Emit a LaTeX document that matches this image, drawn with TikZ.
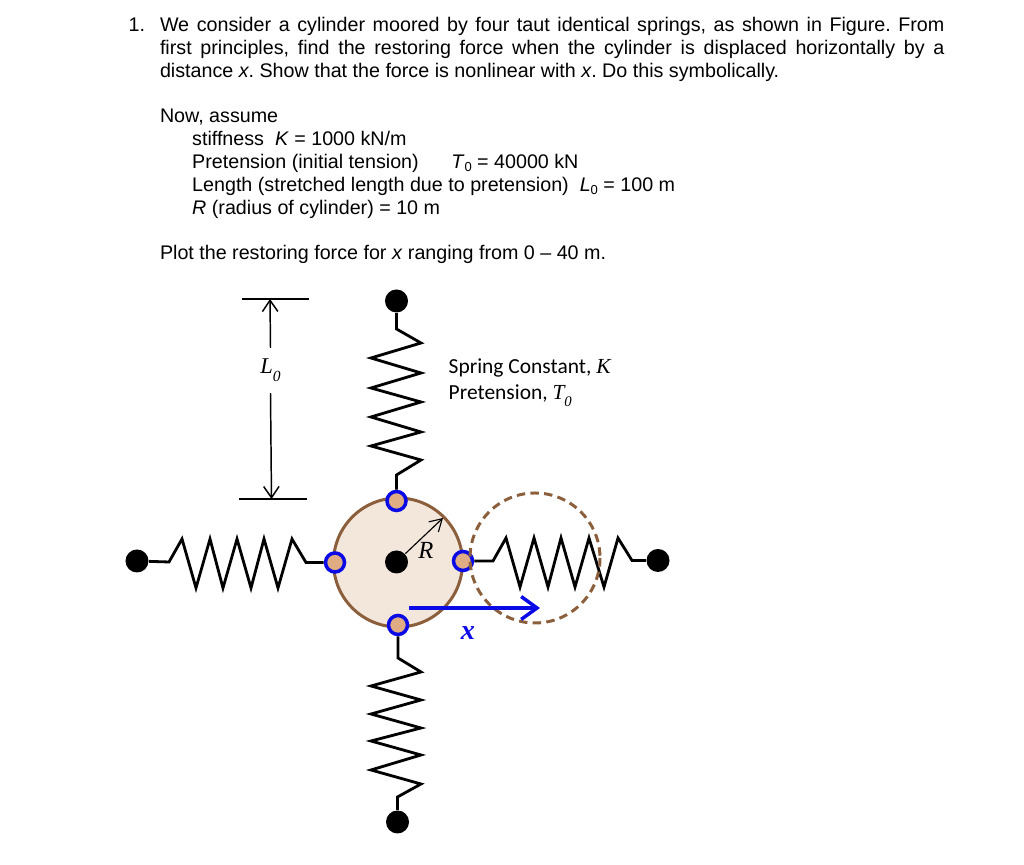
\documentclass[tikz,border=0pt]{standalone}
\usepackage{fontspec}
\setmainfont{Liberation Sans}
\newfontfamily\serifvar{Liberation Serif}
\newfontfamily\labelfont{Carlito}
\usetikzlibrary{arrows.meta}
\definecolor{cylbrown}{HTML}{8B5E3C}
\definecolor{cylfill}{HTML}{F3E6DA}
\definecolor{pinfill}{HTML}{E0AC84}
\definecolor{pinblue}{HTML}{0A0AE6}
\newcommand{\svar}[1]{{\serifvar\itshape #1}}
\newcommand{\tsub}{\raisebox{-0.3ex}{\fontsize{3.7pt}{4pt}\selectfont 0}}
\newcommand{\lsub}[1]{\raisebox{-0.65ex}{\fontsize{#1}{4pt}\selectfont\svar{0}}}
\tikzset{
  txt/.style={anchor=base west,inner sep=0pt,font=\fontsize{5.6pt}{6.46pt}\selectfont\frenchspacing},
  lbl/.style={anchor=base west,inner sep=0pt,font=\labelfont\fontsize{6.1pt}{7pt}\selectfont},
  anchordot/.style={circle,fill=black,inner sep=0pt,minimum size=0.23cm},
  pin/.style={circle,draw=pinblue,fill=pinfill,line width=1pt,inner sep=0pt,minimum size=0.19cm},
  spring/.style={line width=0.8pt,line join=miter},
  dimbar/.style={line width=0.5pt},
  dimarrow/.style={line width=0.42pt,-{Straight Barb[length=3.2pt,width=4.4pt]}}
}
\begin{document}
\begin{tikzpicture}[x=0.01cm,y=-0.01cm]
\useasboundingbox (0,0) rectangle (1024,865);
\node[txt] (num) at (128,32) {1.};
\node[txt,text width=7.84cm,align=justify] (intro) at (159.3,32) {We consider a cylinder moored by four taut identical springs, as shown in Figure. From\linebreak first principles, find the restoring force when the cylinder is displaced horizontally by a\linebreak distance \textit{x}. Show that the force is nonlinear with \textit{x}. Do this symbolically.};
\node[txt] (now) at (159.3,123) {Now, assume};
\node[txt] (stiff) at (191.5,145.3) {stiffness\ \ \textit{K} = 1000 kN/m};
\node[txt] (pre) at (191.5,168.3) {Pretension (initial tension)\hspace{0.325cm}\textit{T}\tsub{} = 40000 kN};
\node[txt] (len) at (191.5,191.3) {Length (stretched length due to pretension)\ \ \textit{L}\tsub{} = 100 m};
\node[txt] (rad) at (191.5,214.3) {\textit{R} (radius of cylinder) = 10 m};
\node[txt] (plot) at (159.3,259.5) {Plot the restoring force for \textit{x} ranging from 0 -- 40 m.};

\node[lbl] (lblk) at (448,374) {Spring Constant, \svar{K}};
\node[lbl] (lblt) at (448,399.5) {Pretension, \svar{T}\lsub{4.2pt}};

\draw[dimbar] (242,299) coordinate (upl) -- (309,299) coordinate (upr);
\draw[dimbar] (239,499) coordinate (lol) -- (307,499) coordinate (lor);
\coordinate (uptip) at (270,299);
\coordinate (lotip) at (271.5,499);
\node[inner sep=0pt,minimum height=0.44cm,font=\fontsize{6.4pt}{7pt}\selectfont] (lzero) at (270.5,370.5) {\svar{L}\lsub{4.4pt}};
\draw[dimarrow] (lzero.north) -- (uptip);
\draw[dimarrow] (lzero.south) -- (lotip);

\draw[cylbrown,fill=cylfill,line width=0.85pt] (398,562.5) circle[radius=64.5];
\node[anchordot] (centre) at (396.5,562) {};
\node[pin] (ptop) at (396.5,501) {};
\node[pin] (pbot) at (398,625) {};
\node[pin] (pleft) at (335,562.5) {};
\node[pin] (pright) at (463,561) {};
\node[anchordot] (dtop) at (396.5,301) {};
\node[anchordot] (dbot) at (397.5,822) {};
\node[anchordot] (dleft) at (137,561) {};
\node[anchordot] (dright) at (658,560.5) {};

\draw[spring] (dtop) -- (396.5,329) -- (421,343) -- (371,358) -- (421,373) -- (371,388) -- (421,402) -- (371,417) -- (421,432) -- (371,446) -- (421,460) -- (396.5,475) -- (ptop);
\draw[spring] (pbot) -- (398,658) -- (421,672) -- (371,686) -- (421,700) -- (371,714) -- (421,728) -- (371,741) -- (421,755) -- (371,770) -- (421,784) -- (397.5,797) -- (dbot);
\draw[spring] (dleft) -- (169,562) -- (182,539) -- (196,588) -- (210,539) -- (223,588) -- (237,539) -- (251,588) -- (264,539) -- (278,588) -- (292,539) -- (306,562.5) -- (pleft);
\draw[spring] (pright) -- (493,561) -- (506,538) -- (520,587) -- (534,538) -- (548,587) -- (561,538) -- (575,587) -- (589,538) -- (604,587) -- (618,538) -- (632,560.5) -- (dright);

\draw[cylbrown,line width=0.85pt,dash pattern=on 2.4pt off 1.5pt] (535,558) circle[radius=65];

\coordinate (rtip) at (443,518);
\draw[line width=0.32pt,-{Straight Barb[length=3.4pt,width=4pt]}] (centre) -- (rtip);
\node[inner sep=0pt,font=\fontsize{7pt}{8pt}\selectfont] (rlabel) at (426,550) {\svar{R}};

\coordinate (xstart) at (409,608);
\coordinate (xend) at (540,608);
\draw[pinblue,line width=1pt,-{Straight Barb[length=4.5pt,width=6.5pt]}] (xstart) -- (xend);
\node[inner sep=0pt,text=pinblue,font=\fontsize{8pt}{9pt}\selectfont] (xlabel) at (468,633) {{\serifvar\bfseries\itshape x}};
\end{tikzpicture}
\end{document}
